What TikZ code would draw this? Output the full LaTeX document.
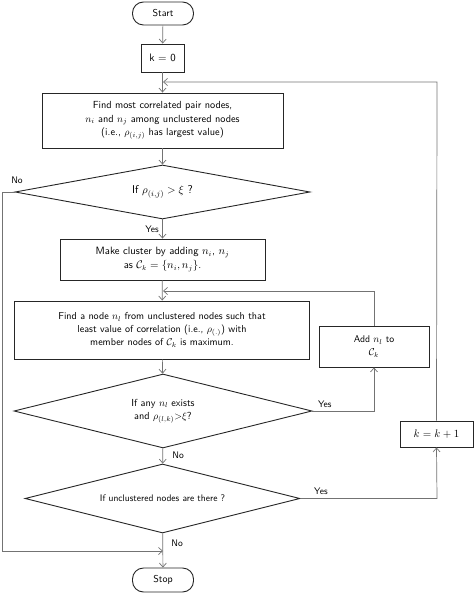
\documentclass[tikz,border=0pt]{standalone}
\usetikzlibrary{shapes.geometric,arrows.meta}
\newcommand{\fsz}[1]{\fontsize{#1}{1.3\dimexpr #1pt\relax}\selectfont}
\begin{document}
\begin{tikzpicture}[x=1pt,y=-1pt,
  font=\sffamily\fsz{10},
  box/.style={draw=black!85,line width=0.9pt,rectangle,inner sep=2pt,align=center},
  term/.style={box,rounded corners=11pt},
  dec/.style={draw=black!85,line width=0.9pt,diamond,inner sep=0pt,align=center},
  conn/.style={draw=black!55,line width=0.7pt},
  arr/.style={conn,-{Straight Barb[length=4pt,width=7pt]}},
  lab/.style={font=\sffamily\fsz{9.5}}]
\useasboundingbox (0,0) rectangle (474,593);
\node[term,minimum width=61,minimum height=23] (start) at (163,13.5) {Start};
\node[box,minimum width=43,minimum height=28,font=\sffamily\fsz{10.8}] (k0) at (162.5,58) {k $=$ 0};
\node[box,minimum width=241,minimum height=55,font=\sffamily\fsz{10.3}] (p1) at (162.5,120.5)
  {Find most correlated pair nodes,\\ $n_i$ and $n_j$ among unclustered nodes\\ (i.e., $\rho_{(i,j)}$ has largest value)};
\node[dec,aspect=5.46,minimum width=295,minimum height=54,font=\sffamily\fsz{11.3}] (d1) at (162.5,192) {If $\rho_{(i,j)} > \xi$ ?};
\node[box,minimum width=205,minimum height=41,font=\sffamily\fsz{10.6}] (p2) at (162.5,259.5)
  {Make cluster by adding $n_i$, $n_j$\\ as $\mathcal{C}_k = \{n_i, n_j\}$.};
\node[box,minimum width=295,minimum height=58,font=\sffamily\fsz{10.1}] (p3) at (162,330)
  {Find a node $n_l$ from unclustered nodes such that\\ least value of correlation (i.e., $\rho_{(.)}$) with\\ member nodes of $\mathcal{C}_k$ is maximum.};
\node[box,minimum width=110,minimum height=41,font=\sffamily\fsz{9.8}] (add) at (374,346.5) {Add $n_l$ to\\ $\mathcal{C}_k$};
\node[dec,aspect=4.03,minimum width=298,minimum height=74,font=\sffamily\fsz{10.2}] (d2) at (163,411) {If any $n_l$ exists\\ and $\rho_{(l,k)}$$>$$\xi$?};
\node[box,minimum width=73,minimum height=26,font=\sffamily\fsz{10.7}] (kk) at (436.5,434) {$k = k + 1$};
\node[dec,aspect=3.99,minimum width=275,minimum height=69,font=\sffamily\fsz{9.5}] (d3) at (162.5,498.5) {If unclustered nodes are there ?};
\node[term,minimum width=61,minimum height=24] (stop) at (163,580) {Stop};
\coordinate (loopA) at (163,82);
\coordinate (loopB) at (163,291);
\coordinate (merge) at (163,551);
\draw[arr] (start) -- (k0);
\draw[arr] (k0) -- (p1);
\draw[arr] (p1) -- (d1);
\draw[arr] (d1) -- node[lab,left,pos=0.5]{Yes} (p2);
\draw[arr] (p2) -- (p3);
\draw[arr] (p3) -- (d2);
\draw[arr] (d2) -- node[lab,right,pos=0.45,xshift=6pt]{No} (d3);
\draw[arr] (d3) -- node[lab,right,pos=0.3,xshift=5pt]{No} (stop);
\draw[arr] (d1.west) -- (2,192) -- (2,551) -- (merge);
\node[lab] (no1) at (17,180) {No};
\draw[arr] (d2.east) -- node[lab,above,pos=0.2]{Yes} (374,411) -- (add.south);
\draw[arr] (add.north) -- (374,291) -- (loopB);
\draw[arr] (d3.east) -- node[lab,above,pos=0.15]{Yes} (437,498.5) -- (kk.south);
\draw[arr] (kk.north) -- (437,82) -- (loopA);
\end{tikzpicture}
\end{document}
